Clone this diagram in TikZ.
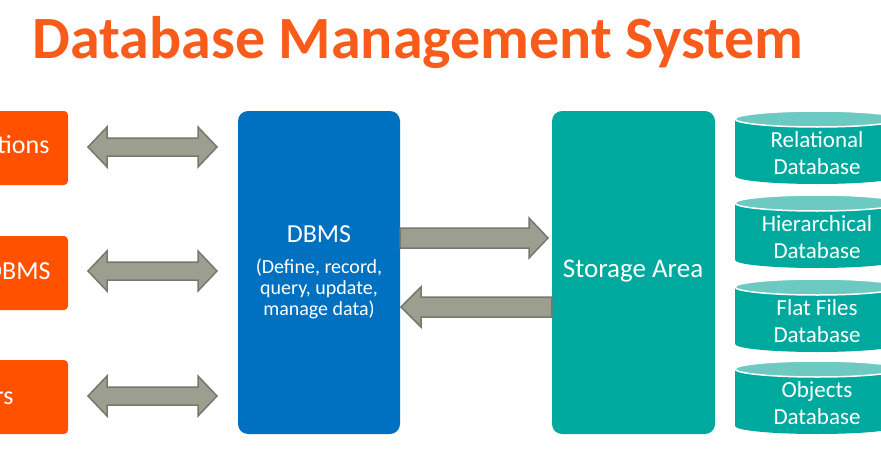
\documentclass[tikz,border=0pt]{standalone}
\usepackage{fontspec}
\setmainfont{Carlito}
\definecolor{ttl}{HTML}{F95B1B}
\definecolor{org}{HTML}{FF5100}
\definecolor{blu}{HTML}{0070C0}
\definecolor{tea}{HTML}{00A99D}
\definecolor{tlt}{HTML}{6CCAC3}
\definecolor{agr}{HTML}{9C9E90}
\definecolor{agd}{HTML}{76786D}
\begin{document}
\begin{tikzpicture}[x=1pt,y=-1pt,
 obox/.style={fill=org,rounded corners=4pt},
 arr/.style={draw=agd,fill=agr,line width=1.5pt,line join=miter},
 wt/.style={text=white,align=center,font=\fontsize{23}{27}\selectfont}]
\useasboundingbox (0,0) rectangle (881,463);
\clip (0,0) rectangle (881,463);
\node[text=ttl,font=\bfseries\fontsize{60}{64}\selectfont] (title) at (418,43) {Database Management System};
% left boxes
\fill[obox] (-140,111) rectangle (68,185);
\fill[obox] (-140,236) rectangle (68,310);
\fill[obox] (-140,360) rectangle (68,434);
\node[wt,anchor=east,font=\fontsize{26}{30}\selectfont] (a1) at (53,147) {Applications};
\node[wt,anchor=east,font=\fontsize{26}{30}\selectfont] (a2) at (54,271) {Users of DBMS};
\node[wt,anchor=east,font=\fontsize{26}{30}\selectfont] (a3) at (17,396) {Users};
\foreach \c/\n in {147/d1,271/d2,396/d3}{
 \draw[arr] (88,\c) -- (107,\c-20) -- (107,\c-9) -- (198,\c-9) -- (198,\c-20) -- (217,\c) -- (198,\c+20) -- (198,\c+9) -- (107,\c+9) -- (107,\c+20) -- cycle;
 \coordinate (\n) at (152,\c);
}
% DBMS
\node[fill=blu,rounded corners=10pt,minimum width=162pt,minimum height=323pt,inner sep=0pt] (dbms) at (319,272.5) {};
\node[wt,font=\fontsize{26}{30}\selectfont] (dt) at (319,234) {DBMS};
\node[wt,font=\fontsize{20}{21}\selectfont] (ds) at (319,289) {(Define, record,\\query, update,\\manage data)};
% storage
\node[fill=tea,rounded corners=10pt,minimum width=163pt,minimum height=323pt,inner sep=0pt] (st) at (633.5,272.5) {};
\node[wt,font=\fontsize{27}{30}\selectfont] (stt) at (633,271) {Storage Area};
% arrows between
\draw[arr] (dbms.east|-0,228) -- (529,228) -- (529,218) -- (548,238) -- (529,258) -- (529,248) -- (dbms.east|-0,248) -- cycle;
\draw[arr] (st.west|-0,297) -- (421,297) -- (421,287) -- (401,307) -- (421,327) -- (421,317) -- (st.west|-0,317) -- cycle;
% cylinders
\foreach \t/\l/\n in {111/Relational/c1,195/Hierarchical/c2,279/Flat Files/c3,361/Objects/c4}{
 \fill[tea] (735,\t+8) -- (735,\t+65) arc[start angle=180,end angle=0,x radius=82,y radius=8] -- (899,\t+8) -- cycle;
 \draw[white,line width=1.5pt,fill=tlt] (817,\t+8) ellipse[x radius=82,y radius=8];
 \node[wt] (\n) at (817,\t+42) {\l\\Database};
}
\end{tikzpicture}
\end{document}
